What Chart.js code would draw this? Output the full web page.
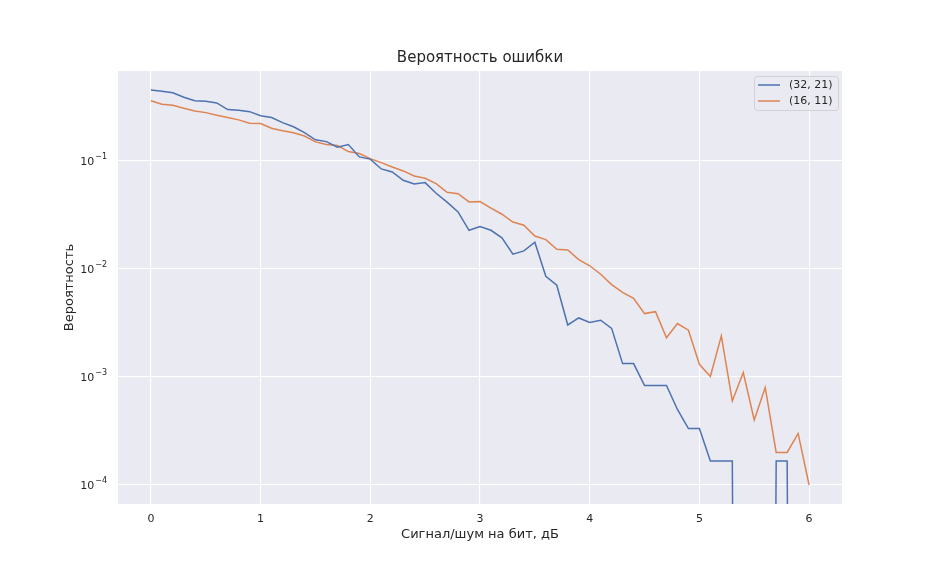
<!DOCTYPE html>
<html>
<head>
<meta charset="utf-8">
<script src="https://cdn.jsdelivr.net/npm/chart.js@4.4.1/dist/chart.umd.min.js"></script>
<style>
  html, body { margin: 0; padding: 0; background: #fff; }
  canvas { display: block; }
</style>
</head>
<body>
<canvas id="grafico" width="936" height="576"></canvas>
<script>
// Signal/noise, dB
var snr = [0, 0.1, 0.2, 0.3, 0.4, 0.5, 0.6, 0.7, 0.8, 0.9,
    1, 1.1, 1.2, 1.3, 1.4, 1.5, 1.6, 1.7, 1.8, 1.9,
    2, 2.1, 2.2, 2.3, 2.4, 2.5, 2.6, 2.7, 2.8, 2.9,
    3, 3.1, 3.2, 3.3, 3.4, 3.5, 3.6, 3.7, 3.8, 3.9,
    4, 4.1, 4.2, 4.3, 4.4, 4.5, 4.6, 4.7, 4.8, 4.9,
    5, 5.1, 5.2, 5.3, 5.4, 5.5, 5.6, 5.7, 5.8, 5.9,
    6];

// code (32, 21)
var code32 = [0.454, 0.441, 0.427, 0.389, 0.361, 0.357, 0.344, 0.299, 0.294, 0.286,
    0.262, 0.252, 0.226, 0.207, 0.183, 0.157, 0.151, 0.134, 0.142, 0.109,
    0.104, 0.0843, 0.0791, 0.0662, 0.0612, 0.0630, 0.0502, 0.0415, 0.0337, 0.0228,
    0.0247, 0.0228, 0.0194, 0.0137, 0.0147, 0.0177, 0.00855, 0.00706, 0.00303, 0.00352,
    0.00320, 0.00335, 0.00282, 0.00133, 0.00133, 0.000833, 0.000833, 0.000833, 0.0005, 0.000333,
    0.000333, 0.000167, 0.000167, 0.000167, 0, 0, 0, 0.000167, 0.000167, 0,
    0];

// code (16, 11)
var code16 = [0.360, 0.335, 0.328, 0.308, 0.290, 0.280, 0.265, 0.252, 0.240, 0.223,
    0.222, 0.201, 0.190, 0.182, 0.170, 0.150, 0.142, 0.139, 0.122, 0.117,
    0.105, 0.0965, 0.0880, 0.0808, 0.0726, 0.0691, 0.0616, 0.0513, 0.0498, 0.0417,
    0.0420, 0.0365, 0.0321, 0.0272, 0.0254, 0.0202, 0.0187, 0.0152, 0.0150, 0.0122,
    0.0107, 0.00893, 0.00716, 0.00608, 0.00535, 0.00386, 0.00402, 0.00231, 0.00312, 0.00271,
    0.00131, 0.00101, 0.00240, 0.0006, 0.0011, 0.0004, 0.0008, 0.0002, 0.0002, 0.0003,
    0.0001];

var seriesNames = ['(32, 21)', '(16, 11)'];
var xTicks = [0, 1, 2, 3, 4, 5, 6];
var yTicks = [1e-4, 1e-3, 1e-2, 1e-1];
var yTickBase = '10';
var yTickExp = ['\u22124', '\u22123', '\u22122', '\u22121'];

var FONT = "'DejaVu Sans', sans-serif";
var TEXT = '#262626';

// zero on a log axis: drop it far below the edge, like matplotlib does
function toPoints(ys) {
    return ys.map(function (y, i) {
        return { x: snr[i], y: y === 0 ? 1e-20 : y };
    });
}

var fondo = {
    id: 'fondo',
    beforeDraw: function (chart) {
        var a = chart.chartArea, ctx = chart.ctx;
        ctx.save();
        ctx.fillStyle = '#EAEAF2';
        ctx.fillRect(a.left, a.top, a.right - a.left, a.bottom - a.top);
        ctx.restore();
    }
};

// 10^-n labels with a real superscript
var potencias = {
    id: 'potencias',
    afterDraw: function (chart) {
        var s = chart.scales.y, ctx = chart.ctx;
        var right = s.right - 11;
        ctx.save();
        ctx.fillStyle = TEXT;
        ctx.textBaseline = 'middle';
        yTicks.forEach(function (v, i) {
            var py = s.getPixelForValue(v);
            ctx.font = '8px ' + FONT;
            var wExp = ctx.measureText(yTickExp[i]).width;
            ctx.textAlign = 'right';
            ctx.fillText(yTickExp[i], right, py - 4.5);
            ctx.font = '11px ' + FONT;
            ctx.fillText(yTickBase, right - wExp - 1, py + 1);
        });
        ctx.restore();
    }
};

var leyenda = {
    id: 'leyenda',
    afterDatasetsDraw: function (chart) {
        var a = chart.chartArea, ctx = chart.ctx;
        var w = 84, h = 34;
        var x = a.right - 4 - w, y = a.top + 5;
        ctx.save();
        ctx.beginPath();
        ctx.roundRect(x + 0.5, y + 0.5, w, h, 3);
        ctx.fillStyle = 'rgba(234,234,242,0.8)';
        ctx.fill();
        ctx.strokeStyle = 'rgba(204,204,204,0.8)';
        ctx.lineWidth = 1;
        ctx.stroke();
        ctx.font = '11px ' + FONT;
        ctx.textBaseline = 'middle';
        chart.data.datasets.forEach(function (ds, i) {
            var cy = y + 9 + i * 16;
            ctx.beginPath();
            ctx.moveTo(x + 4, cy);
            ctx.lineTo(x + 26, cy);
            ctx.strokeStyle = ds.borderColor;
            ctx.lineWidth = 1.5;
            ctx.stroke();
            ctx.fillStyle = TEXT;
            ctx.fillText(ds.label, x + 35, cy);
        });
        ctx.restore();
    }
};

new Chart(document.getElementById('grafico'), {
    type: 'line',
    data: {
        datasets: [{
            label: seriesNames[0],
            data: toPoints(code32),
            borderColor: '#4C72B0',
            borderWidth: 1.5,
            pointRadius: 0,
            tension: 0
        }, {
            label: seriesNames[1],
            data: toPoints(code16),
            borderColor: '#DD8452',
            borderWidth: 1.5,
            pointRadius: 0,
            tension: 0
        }]
    },
    options: {
        responsive: false,
        animation: false,
        layout: { padding: { left: 0, right: 94, top: 0, bottom: 0 } },
        plugins: {
            legend: { display: false },
            tooltip: { enabled: false },
            title: {
                display: true,
                fullSize: false,
                text: 'Вероятность ошибки',
                color: TEXT,
                font: { family: FONT, size: 15, weight: 'normal' },
                padding: { top: 49, bottom: 4 }
            }
        },
        scales: {
            x: {
                type: 'linear',
                min: -0.3,
                max: 6.3,
                afterBuildTicks: function (s) {
                    s.ticks = xTicks.map(function (v) { return { value: v }; });
                },
                afterFit: function (s) { s.height = 72; },
                grid: { color: '#ffffff', lineWidth: 1.1, drawTicks: false },
                border: { display: false },
                ticks: {
                    color: TEXT,
                    font: { family: FONT, size: 11 },
                    padding: 9,
                    maxRotation: 0
                },
                title: {
                    display: true,
                    text: 'Сигнал/шум на бит, дБ',
                    color: TEXT,
                    font: { family: FONT, size: 13 },
                    padding: { top: 0, bottom: 34 }
                }
            },
            y: {
                type: 'logarithmic',
                min: 6.67e-5,
                max: 0.68,
                afterBuildTicks: function (s) {
                    s.ticks = yTicks.map(function (v) { return { value: v }; });
                },
                afterFit: function (s) { s.width = 118; },
                grid: { color: '#ffffff', lineWidth: 1.1, drawTicks: false },
                border: { display: false },
                ticks: {
                    // drawn by the potencias plugin
                    display: false
                },
                title: {
                    display: true,
                    text: 'Вероятность',
                    color: TEXT,
                    font: { family: FONT, size: 13 },
                    padding: { top: 62, bottom: 0 }
                }
            }
        }
    },
    plugins: [fondo, potencias, leyenda]
});
</script>
</body>
</html>
